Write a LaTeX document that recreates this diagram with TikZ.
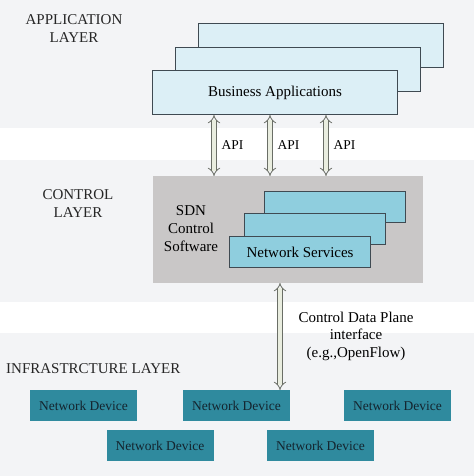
\documentclass[tikz,border=0pt]{standalone}
\usepackage{fontspec}
\setmainfont{Liberation Serif}
\usetikzlibrary{arrows.meta}
\definecolor{bandgray}{HTML}{F3F4F6}
\definecolor{appblue}{HTML}{DCEFF6}
\definecolor{svcblue}{HTML}{8FCEDE}
\definecolor{ctrlgray}{HTML}{C9C7C7}
\definecolor{devteal}{HTML}{2F8A9E}
\definecolor{edgegray}{HTML}{3F4A52}
\definecolor{arrowfill}{HTML}{E9EDDF}
\definecolor{arrowedge}{HTML}{6A6E66}
\definecolor{devtext}{HTML}{14252F}
\tikzset{
  appbox/.style={draw=edgegray, line width=0.9pt, fill=appblue, anchor=north west, inner sep=0pt},
  svcbox/.style={draw=edgegray, line width=1.1pt, fill=svcblue, anchor=north west, inner sep=0pt},
  devbox/.style={fill=devteal, minimum width=107pt, minimum height=31pt, inner sep=0pt, text=devtext, font=\fontsize{13.5}{16}\selectfont},
  layerlabel/.style={align=center, font=\fontsize{15}{18}\selectfont, text=black!85},
  dblarrow/.style={double=arrowfill, double distance=3.6pt, draw=arrowedge, line width=0.8pt,
     {Implies[length=3pt]}-{Implies[length=3pt]}},
  apilabel/.style={font=\fontsize{13.5}{16}\selectfont, anchor=west}
}
\begin{document}
\begin{tikzpicture}[x=1pt,y=-1pt]
\useasboundingbox (0,0) rectangle (474,476);
\fill[white] (0,0) rectangle (474,476);
% bands
\fill[bandgray] (0,0) rectangle (474,128);
\fill[bandgray] (0,160) rectangle (474,302);
\fill[bandgray] (0,333) rectangle (474,476);
% application layer
\node[layerlabel] (applbl) at (74,29) {APPLICATION\\LAYER};
\node[appbox, minimum width=245pt, minimum height=44pt] (app3) at (198,23) {};
\node[appbox, minimum width=245pt, minimum height=44pt] (app2) at (175,47) {};
\node[appbox, minimum width=245pt, minimum height=44pt, font=\fontsize{15}{18}\selectfont] (app1) at (152,70) {Business Applications};
% control layer
\node[layerlabel] (ctllbl) at (78,204) {CONTROL\\LAYER};
\node[fill=ctrlgray, minimum width=270pt, minimum height=107pt, anchor=north west, inner sep=0pt] (ctrl) at (153,176) {};
\node[align=center, font=\fontsize{15}{18}\selectfont] (sdn) at (191,229) {SDN\\Control\\Software};
\node[svcbox, minimum width=141pt, minimum height=31pt] (svc3) at (264,191) {};
\node[svcbox, minimum width=141pt, minimum height=31pt] (svc2) at (244,213) {};
\node[svcbox, minimum width=141pt, minimum height=31pt, font=\fontsize{15}{18}\selectfont] (svc1) at (229,236) {Network Services};
% API arrows
\coordinate (a1t) at (214,115); \coordinate (a1b) at (214,176);
\coordinate (a2t) at (270,115); \coordinate (a2b) at (270,176);
\coordinate (a3t) at (326,115); \coordinate (a3b) at (326,176);
\draw[dblarrow] (a1t) -- (a1b);
\draw[dblarrow] (a2t) -- (a2b);
\draw[dblarrow] (a3t) -- (a3b);
\node[apilabel] (api1) at (218,145) {API};
\node[apilabel] (api2) at (274,145) {API};
\node[apilabel] (api3) at (330,145) {API};
% control data plane arrow
\coordinate (cdt) at (280,283); \coordinate (cdb) at (280,390);
\draw[dblarrow] (cdt) -- (cdb);
\node[align=center, font=\fontsize{15}{17.5}\selectfont] (cdp) at (356,336) {Control Data Plane\\interface\\(e.g.,OpenFlow)};
% infrastructure layer
\node[font=\fontsize{15}{18}\selectfont, anchor=west, inner sep=0pt, text=black!85] (inflbl) at (6,369) {INFRASTRCTURE LAYER};
\node[devbox] (d1) at (83.5,405.5) {Network Device};
\node[devbox] (d2) at (236.5,405.5) {Network Device};
\node[devbox] (d3) at (397.5,405.5) {Network Device};
\node[devbox] (d4) at (160,445.5) {Network Device};
\node[devbox] (d5) at (320.5,445.5) {Network Device};
\end{tikzpicture}
\end{document}
